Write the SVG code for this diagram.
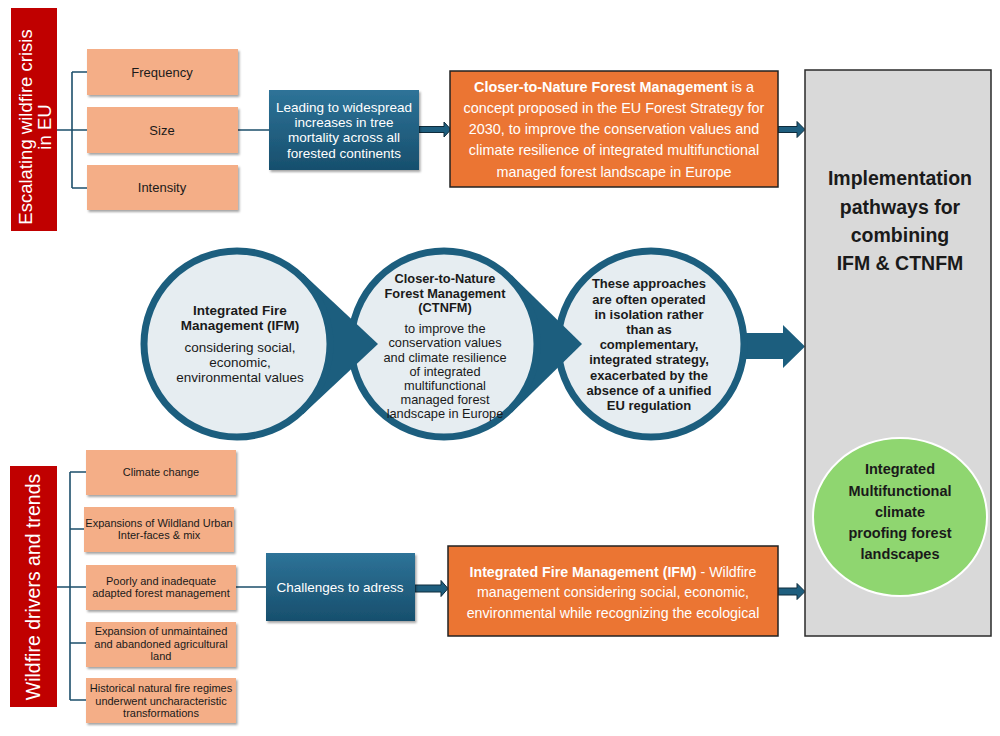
<svg xmlns="http://www.w3.org/2000/svg" width="1000" height="736" viewBox="0 0 1000 736">
<defs>
<filter id="sh" x="-10%" y="-10%" width="130%" height="140%">
<feDropShadow dx="1.5" dy="2" stdDeviation="1.2" flood-color="#000" flood-opacity="0.35"/>
</filter>
<linearGradient id="bg" x1="0" y1="0" x2="0" y2="1">
<stop offset="0" stop-color="#2E7398"/>
<stop offset="1" stop-color="#174F6D"/>
</linearGradient>
<style>
text{font-family:"Liberation Sans",Arial,sans-serif;text-anchor:middle;dominant-baseline:central}
.red{fill:#C00000}
.sal{fill:#F4AE87;filter:url(#sh)}
.blue{fill:url(#bg);filter:url(#sh)}
.org{fill:#EB7533;stroke:#222;stroke-width:1.5}
.con{stroke:#1D4F6B;stroke-width:1.6;fill:none}
.arr{fill:#1E5E7E;stroke:#0E2C3C;stroke-width:1}
.circ{fill:#E6EDF1;stroke:#1C5E7E;stroke-width:7}
.tip{fill:#1C5E7E}
.wt{fill:#fff}
.bk{fill:#1a1a1a}
.b{font-weight:bold}
</style>
</defs>
<rect x="0" y="0" width="1000" height="736" fill="#fff"/>

<g id="connectors">
<path class="con" d="M57 130H72M72 72V188M72 72H87M72 188H87M72 130H87M238 130H269"/>
<path class="con" d="M57 587H70M70 472V700M70 472H86M70 529H84M70 587H86M70 643H86M70 700H86M236 587H266"/>
<path class="arr" d="M419 126.5H444V122L451 129.5L444 137V132.5H419Z"/>
<path class="arr" d="M778 126.5H797V121.5L805 129.5L797 137.5V132.5H778Z"/>
<path class="arr" d="M415 585H441V580.5L448 588.5L441 596.5V592H415Z"/>
<path class="arr" d="M778 588H797V583.5L805 591.5L797 599.5V595H778Z"/>
<path class="tip" d="M745 333H783V325L805 346.5L783 368V359H745Z"/>
</g>

<g id="crisis">
<rect class="red" x="11" y="8" width="46" height="223"/>
<text class="wt" transform="translate(25 127) rotate(-90)" font-size="18.5">Escalating wildfire crisis</text>
<text class="wt" transform="translate(44 127) rotate(-90)" font-size="18.5">in EU</text>
</g>
<g id="frequency"><rect class="sal" x="87" y="49" width="151" height="46"/><text class="bk" x="162" y="72" font-size="13">Frequency</text></g>
<g id="size"><rect class="sal" x="87" y="107" width="151" height="46"/><text class="bk" x="162" y="130" font-size="13">Size</text></g>
<g id="intensity"><rect class="sal" x="87" y="165" width="151" height="45"/><text class="bk" x="162" y="187" font-size="13">Intensity</text></g>

<g id="leading">
<rect class="blue" x="269" y="90" width="150" height="80"/>
<text class="wt" font-size="13.5"><tspan x="344" y="107">Leading to widespread</tspan><tspan x="344" y="122">increases in tree</tspan><tspan x="344" y="137">mortality across all</tspan><tspan x="344" y="152.5">forested continents</tspan></text>
</g>

<g id="ctnfm-box">
<rect class="org" x="450" y="71" width="328" height="116"/>
<text class="wt" font-size="14.4"><tspan x="614" y="87"><tspan class="b">Closer-to-Nature Forest Management</tspan> is a</tspan><tspan x="614" y="108">concept proposed in the EU Forest Strategy for</tspan><tspan x="614" y="129">2030, to improve the conservation values and</tspan><tspan x="614" y="150">climate resilience of integrated multifunctional</tspan><tspan x="614" y="171.5">managed forest landscape in Europe</tspan></text>
</g>

<g id="pathways">
<rect x="805" y="70" width="186" height="566" fill="#D9D9D9" stroke="#2a2a2a" stroke-width="1.5"/>
<text class="bk b" font-size="19.5"><tspan x="900" y="178">Implementation</tspan><tspan x="900" y="207">pathways for</tspan><tspan x="900" y="235">combining</tspan><tspan x="900" y="263">IFM &amp; CTNFM</tspan></text>
</g>
<g id="integrated-landscapes">
<ellipse cx="900" cy="517" rx="87" ry="79" fill="#8FD670" stroke="#fff" stroke-width="2"/>
<text class="bk b" font-size="14.5"><tspan x="900" y="469">Integrated</tspan><tspan x="900" y="491">Multifunctional</tspan><tspan x="900" y="512">climate</tspan><tspan x="900" y="533">proofing forest</tspan><tspan x="900" y="554">landscapes</tspan></text>
</g>

<g id="isolation">
<circle class="circ" cx="651" cy="344" r="93"/>
<text class="bk b" font-size="13"><tspan x="649" y="283">These approaches</tspan><tspan x="649" y="298.5">are often operated</tspan><tspan x="649" y="313.5">in isolation rather</tspan><tspan x="649" y="328.5">than as</tspan><tspan x="649" y="344">complementary,</tspan><tspan x="649" y="359">integrated strategy,</tspan><tspan x="649" y="374.5">exacerbated by the</tspan><tspan x="649" y="390">absence of a unified</tspan><tspan x="649" y="405">EU regulation</tspan></text>
</g>
<g id="ctnfm-circle">
<path class="tip" d="M511.5 275L582 344L511.5 413Z"/>
<circle class="circ" cx="444" cy="344" r="93"/>
<text class="bk" font-size="12.8"><tspan class="b" x="445" y="278">Closer-to-Nature</tspan><tspan class="b" x="445" y="293">Forest Management</tspan><tspan class="b" x="445" y="307">(CTNFM)</tspan><tspan x="445" y="328">to improve the</tspan><tspan x="445" y="342">conservation values</tspan><tspan x="445" y="357">and climate resilience</tspan><tspan x="445" y="371">of integrated</tspan><tspan x="445" y="385">multifunctional</tspan><tspan x="445" y="399">managed forest</tspan><tspan x="445" y="413">landscape in Europe</tspan></text>
</g>
<g id="ifm-circle">
<path class="tip" d="M303 273.7L378 344L303 414.3Z"/>
<circle class="circ" cx="237" cy="344" r="93"/>
<text class="bk" font-size="13.5"><tspan class="b" x="240" y="310">Integrated Fire</tspan><tspan class="b" x="240" y="325">Management (IFM)</tspan><tspan x="240" y="347">considering social,</tspan><tspan x="240" y="362">economic,</tspan><tspan x="240" y="377">environmental values</tspan></text>
</g>

<g id="drivers">
<rect class="red" x="10" y="466" width="47" height="241"/>
<text class="wt" transform="translate(33 587) rotate(-90)" font-size="19.5">Wildfire drivers and trends</text>
</g>
<g id="climate"><rect class="sal" x="86" y="450" width="150" height="45"/><text class="bk" x="161" y="472" font-size="11">Climate change</text></g>
<g id="wui"><rect class="sal" x="84" y="507" width="150" height="45"/><text class="bk" font-size="11"><tspan x="159" y="522.5">Expansions of Wildland Urban</tspan><tspan x="159" y="535">Inter-faces &amp; mix</tspan></text></g>
<g id="poorly"><rect class="sal" x="86" y="565" width="150" height="45"/><text class="bk" font-size="11"><tspan x="161" y="580.5">Poorly and inadequate</tspan><tspan x="161" y="593">adapted forest management</tspan></text></g>
<g id="abandoned"><rect class="sal" x="86" y="622" width="150" height="45"/><text class="bk" font-size="11"><tspan x="161" y="631">Expansion of unmaintained</tspan><tspan x="161" y="643.5">and abandoned agricultural</tspan><tspan x="161" y="656">land</tspan></text></g>
<g id="historical"><rect class="sal" x="86" y="678" width="150" height="45"/><text class="bk" font-size="11"><tspan x="161" y="688">Historical natural fire regimes</tspan><tspan x="161" y="700.5">underwent uncharacteristic</tspan><tspan x="161" y="713">transformations</tspan></text></g>

<g id="challenges">
<rect class="blue" x="266" y="553" width="149" height="68"/>
<text class="wt" x="340" y="587" font-size="13.5">Challenges to adress</text>
</g>
<g id="ifm-box">
<rect class="org" x="448" y="546" width="330" height="90"/>
<text class="wt" font-size="14.2"><tspan x="613" y="572"><tspan class="b">Integrated Fire Management (IFM)</tspan> - Wildfire</tspan><tspan x="613" y="592">management considering social, economic,</tspan><tspan x="613" y="613">environmental while recognizing the ecological</tspan></text>
</g>
</svg>
